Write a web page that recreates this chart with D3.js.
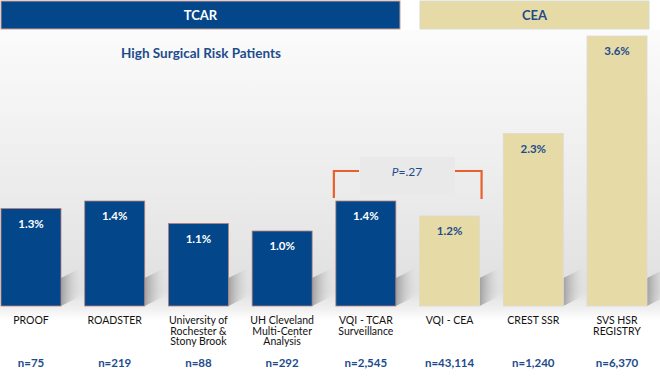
<!DOCTYPE html>
<html><head><meta charset="utf-8">
<script src="https://cdn.jsdelivr.net/npm/d3@7"></script>
<style>html,body{margin:0;padding:0;background:#fff;}svg{display:block;font-family:Lato,"Open Sans",sans-serif;}</style>
</head><body><svg id="c" width="660" height="391"></svg>
<script>
const categories = [["PROOF"],["ROADSTER"],["University of","Rochester &","Stony Brook"],["UH Cleveland","Multi-Center","Analysis"],["VQI - TCAR","Surveillance"],["VQI - CEA"],["CREST SSR"],["SVS HSR","REGISTRY"]];
const values = [1.3,1.4,1.1,1.0,1.4,1.2,2.3,3.6];
const groups = ["TCAR","TCAR","TCAR","TCAR","TCAR","CEA","CEA","CEA"];
const sizes = ["n=75","n=219","n=88","n=292","n=2,545","n=43,114","n=1,240","n=6,370"];
const valueLabels = ["1.3%","1.4%","1.1%","1.0%","1.4%","1.2%","2.3%","3.6%"];
const pLabel = "=.27";

const BLUE="#03478a", BEIGE="#e6dba7", TXT="#1d4c8c";
const svg=d3.select("#c");
const defs=svg.append("defs");
const g=defs.append("linearGradient").attr("id","bg").attr("x1",0).attr("x2",0).attr("gradientUnits","userSpaceOnUse").attr("y1",30).attr("y2",320);
[[0,"#fbfbfb"],[0.25,"#f4f4f4"],[0.6,"#eaeaea"],[0.9,"#e0e0e0"],[0.955,"#eeeeee"],[1,"#ffffff"]].forEach(s=>g.append("stop").attr("offset",s[0]).attr("stop-color",s[1]));
const sg=defs.append("linearGradient").attr("id","sh").attr("x1",0).attr("y1",0).attr("x2",1).attr("y2",0);
sg.append("stop").attr("offset",0).attr("stop-color","#8f8f8f").attr("stop-opacity",0.8);
sg.append("stop").attr("offset",1).attr("stop-color","#cfcfcf").attr("stop-opacity",0);

svg.append("rect").attr("width",660).attr("height",391).attr("fill","#fff");
svg.append("rect").attr("x",0).attr("y",30).attr("width",660).attr("height",290).attr("fill","url(#bg)");

const x=d3.scaleBand().domain(d3.range(values.length)).range([1,647]).paddingInner(0.2833).paddingOuter(0);
const y=d3.scaleLinear().domain([0,3.6]).range([306,36]);
const bw=x.bandwidth();

// header boxes
const hx0=1, hx1=400, cx0=420, cx1=649;
svg.append("rect").attr("x",hx0).attr("y",1).attr("width",hx1-hx0).attr("height",28).attr("fill",BLUE).attr("stroke","#c99a94").attr("stroke-width",1);
svg.append("text").attr("x",(hx0+hx1)/2).attr("y",20).attr("text-anchor","middle").attr("fill","#fff").attr("font-weight","bold").attr("font-size",13).text("TCAR");
svg.append("rect").attr("x",cx0).attr("y",1).attr("width",cx1-cx0).attr("height",28).attr("fill",BEIGE).attr("stroke","#d9d9d0").attr("stroke-width",1);
svg.append("text").attr("x",(cx0+cx1)/2).attr("y",20).attr("text-anchor","middle").attr("fill",TXT).attr("font-weight","bold").attr("font-size",13).text("CEA");

svg.append("text").attr("x",201).attr("y",58).attr("text-anchor","middle").attr("fill",TXT).attr("font-weight","bold").attr("font-size",13.5).text("High Surgical Risk Patients");

// shadows
svg.append("g").selectAll("path").data(values).join("path")
 .attr("d",(d,i)=>{const x1=x(i)+bw, b=y(0); return `M${x1},${b} L${x1},${b-28} L${x1+20},${b-38} L${x1+20},${b-10} Z`;})
 .attr("fill","url(#sh)");

// bars
svg.append("g").selectAll("rect").data(values).join("rect")
 .attr("x",(d,i)=>x(i)).attr("y",d=>y(d)).attr("width",bw).attr("height",d=>y(0)-y(d))
 .attr("fill",(d,i)=>groups[i]==="TCAR"?BLUE:BEIGE)
 .attr("stroke",(d,i)=>groups[i]==="TCAR"?"#b8807a":"#dedad0").attr("stroke-width",0.8);

svg.append("g").selectAll("text").data(values).join("text")
 .attr("x",(d,i)=>x(i)+bw/2).attr("y",d=>y(d)+19).attr("text-anchor","middle")
 .attr("fill",(d,i)=>groups[i]==="TCAR"?"#fff":TXT).attr("font-weight","bold").attr("font-size",11.5)
 .text((d,i)=>valueLabels[i]);

// category labels
const cl=svg.append("g");
categories.forEach((lines,i)=>{
  lines.forEach((l,j)=>cl.append("text").attr("x",x(i)+bw/2).attr("y",324+j*10.5).attr("text-anchor","middle").attr("fill","#111").attr("font-size",10.5).text(l));
});
svg.append("g").selectAll("text").data(sizes).join("text")
 .attr("x",(d,i)=>x(i)+bw/2).attr("y",367).attr("text-anchor","middle").attr("fill",TXT).attr("font-weight","bold").attr("font-size",11.5).text(d=>d);

// P bracket
const a=4, b=5;
const lx=x(a)-2, rx=x(b)+bw+2, by=y(values[a])-2, ty=171;
svg.append("rect").attr("x",360).attr("y",157).attr("width",95).attr("height",38).attr("fill","#e9e9e9");
svg.append("path").attr("d",`M${lx},${by-1} L${lx},${ty} L359,${ty}`).attr("fill","none").attr("stroke","#e8602c").attr("stroke-width",2.2);
svg.append("path").attr("d",`M455,${ty} L${rx},${ty} L${rx},${y(values[b])-17}`).attr("fill","none").attr("stroke","#e8602c").attr("stroke-width",2.2);
const pt=svg.append("text").attr("x",407).attr("y",176).attr("text-anchor","middle").attr("fill",TXT).attr("font-size",12);
pt.append("tspan").attr("font-style","italic").text("P");
pt.append("tspan").text(pLabel);
</script></body></html>
